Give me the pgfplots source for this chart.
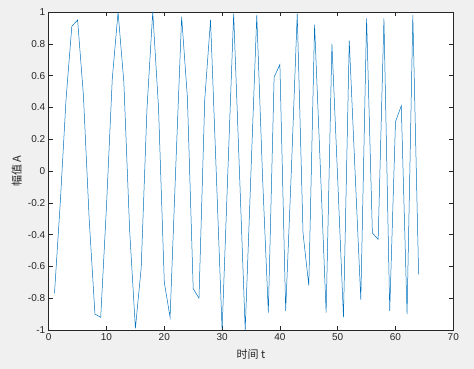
\documentclass[border=0pt]{standalone}
\usepackage{fontspec}
\setmainfont{Liberation Sans}
\newfontfamily\cjk{Noto Sans CJK SC}
\usepackage{pgfplots}
\pgfplotsset{compat=1.18}
\definecolor{mblue}{rgb}{0,0.447,0.741}
\definecolor{axgray}{rgb}{0.15,0.15,0.15}
\definecolor{figbg}{rgb}{0.94,0.94,0.94}
\begin{document}
\begin{tikzpicture}[x=1pt,y=1pt]
\fill[figbg] (0,0) rectangle (474,369);
\begin{axis}[
  at={(48.7pt,39pt)}, anchor=south west,
  scale only axis, width=404.6pt, height=318pt,
  xmin=0, xmax=70, ymin=-1, ymax=1,
  xtick={0,10,20,30,40,50,60,70},
  ytick={-1,-0.8,-0.6,-0.4,-0.2,0,0.2,0.4,0.6,0.8,1},
  tick align=inside, tick pos=both, major tick length=4pt,
  axis line style={axgray, line width=0.5pt},
  tick style={axgray, line width=0.5pt},
  axis background/.style={fill=white},
  /pgf/number format/assume math mode=true,
  ticklabel style={font=\fontsize{10}{12}\selectfont, text=axgray},
  yticklabel style={/pgf/number format/fixed, /pgf/number format/precision=1},
  xlabel={\cjk 时间 t}, ylabel={\cjk 幅值 A},
  label style={font=\fontsize{11}{13}\selectfont, text=axgray},
  xlabel style={at={(axis description cs:0.5,-0.0755)}, anchor=center},
  ylabel style={at={(axis description cs:-0.079,0.5)}, anchor=center},
]
\addplot[mblue, line width=0.5pt] table {
t y
1 -0.77
2 -0.20
3 0.45
4 0.91
5 0.95
6 0.48
7 -0.30
8 -0.90
9 -0.92
10 -0.22
11 0.58
12 1.00
13 0.56
14 -0.37
15 -0.99
16 -0.61
17 0.39
18 1.00
19 0.40
20 -0.70
21 -0.92
22 0.04
23 0.97
24 0.46
25 -0.74
26 -0.80
27 0.45
28 0.95
29 -0.02
30 -1.00
31 0.00
32 0.99
33 0.00
34 -1.00
35 0.00
36 0.98
37 -0.04
38 -0.89
39 0.59
40 0.67
41 -0.88
42 0.02
43 0.99
44 -0.39
45 -0.72
46 0.92
47 0.02
48 -0.89
49 0.80
50 -0.05
51 -0.92
52 0.82
53 0.00
54 -0.81
55 0.96
56 -0.39
57 -0.43
58 0.96
59 -0.88
60 0.31
61 0.41
62 -0.90
63 0.98
64 -0.65
};
\end{axis}
\end{tikzpicture}
\end{document}
